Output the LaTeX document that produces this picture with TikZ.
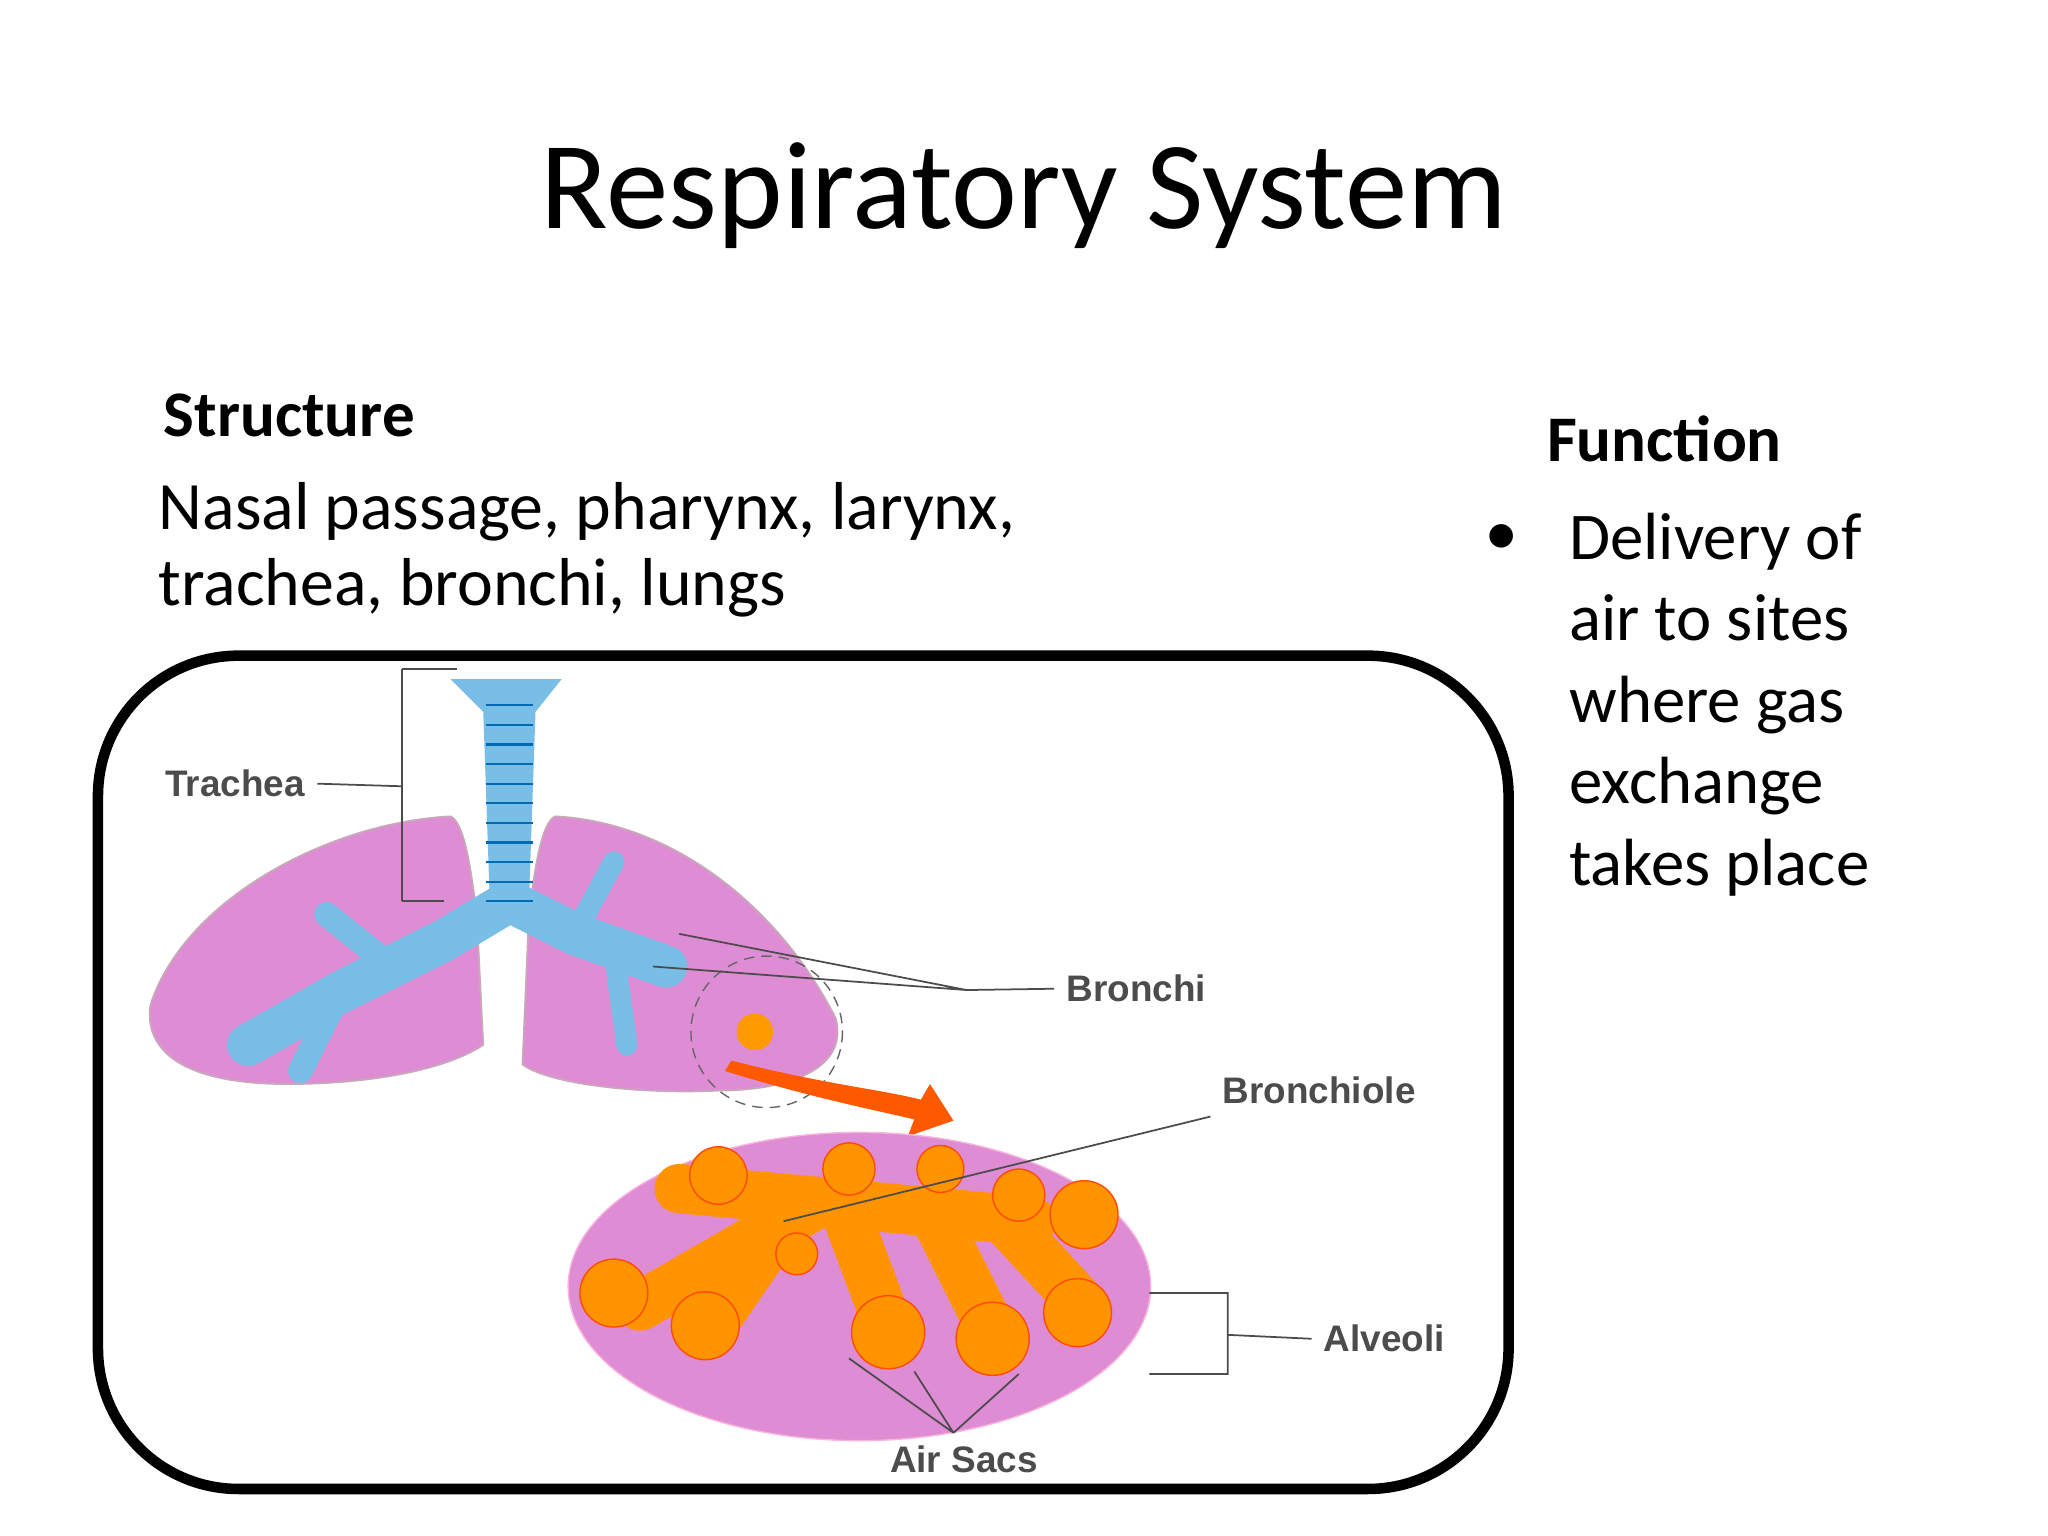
\documentclass[tikz,border=0pt]{standalone}
\usepackage{fontspec}
\setmainfont{Carlito}
\newfontfamily\lblfont{Liberation Sans}
\definecolor{lungc}{RGB}{222,140,212}
\definecolor{bluec}{RGB}{120,190,230}
\begin{document}
\begin{tikzpicture}[x=0.01306cm,y=-0.01306cm,
  lbl/.style={font=\lblfont\bfseries\fontsize{10.5}{11}\selectfont,text=black!70},
  lead/.style={draw=black!70,line width=0.5pt},
  lung/.style={fill=lungc,draw=magenta!40!black!40,line width=0.5pt},
  sac/.style={fill=orange!85!yellow,draw=orange!60!red}]
\useasboundingbox (0,0) rectangle (1568,1176);
\node[font=\fontsize{35.5}{38}\selectfont] (title) at (784,150) {Respiratory System};
\node[anchor=west,font=\bfseries\fontsize{18.5}{20}\selectfont] (st) at (116,318) {Structure};
\node[anchor=north west,align=left,font=\fontsize{19.3}{21.5}\selectfont] (sttxt) at (112,360) {Nasal passage, pharynx, larynx,\\trachea, bronchi, lungs};
\node[anchor=west,font=\bfseries\fontsize{18.5}{20}\selectfont] (fn) at (1175,336) {Function};
\node[font=\fontsize{18}{22}\selectfont] (bul) at (1150,412) {$\bullet$};
\node[anchor=north west,align=left,font=\fontsize{19}{23.2}\selectfont] (fntxt) at (1192,383) {Delivery of\\air to sites\\where gas\\exchange\\takes place};
% frame
\draw[line width=3pt,rounded corners=40] (75,502) rectangle (1155,1140);
% lungs
\path[lung] (345,625) .. controls (250,630) and (140,690) .. (115,770) .. controls (110,810) and (150,830) .. (220,830) .. controls (280,830) and (340,820) .. (370,800) -- (365,700) .. controls (360,660) and (355,630) .. (345,625);
\path[lung] (425,625) .. controls (520,630) and (600,700) .. (640,780) .. controls (650,820) and (600,835) .. (550,835) .. controls (490,838) and (420,830) .. (400,815) -- (405,700) .. controls (410,660) and (415,630) .. (425,625);
% trachea and bronchi
\fill[bluec] (345,520) -- (430,520) -- (410,545) -- (405,690) -- (375,690) -- (370,545) -- cycle;
\draw[bluec,line width=12pt,line cap=round] (390,690) -- (340,720) -- (260,760) -- (190,800);
\draw[bluec,line width=7pt,line cap=round] (300,740) -- (250,700) (260,760) -- (230,820);
\draw[bluec,line width=12pt,line cap=round] (390,690) -- (440,715) -- (510,740);
\draw[bluec,line width=6pt,line cap=round] (440,715) -- (470,660) (470,728) -- (480,800);
\foreach \y in {540,555,...,690} \draw[blue!40!cyan!70!black,line width=0.6pt] (372,\y) -- (408,\y);
% zoom circle & arrow
\draw[black!60,densely dashed] (587,790) circle (58);
\fill[orange!80!yellow] (578,790) circle (14);
\fill[orange!70!red] (560,812) .. controls (630,830) and (680,835) .. (705,842) -- (712,830) -- (730,858) -- (695,870) -- (700,857) .. controls (670,850) and (620,840) .. (555,820) -- cycle;
% alveoli ellipse
\path[fill=lungc,draw=magenta!30] (658,985) ellipse [x radius=223,y radius=118];
\draw[orange!85!yellow,line width=14pt,line cap=round] (520,910) -- (790,935) (620,925) -- (490,1000) (600,935) -- (545,1015) (650,935) -- (680,1015) (720,940) -- (760,1020) (770,935) -- (830,1000);
\foreach \x/\y/\r in {470/990/26,540/1015/26,680/1020/28,760/1025/28,825/1005/26,830/930/26,780/915/20,550/900/22,650/895/20,720/895/18,610/960/16}
  \path[sac] (\x,\y) circle (\r);
% labels
\node[lbl] (tr) at (180,600) {Trachea};
\draw[lead] (tr.east) -- (308,602);
\draw[lead] (308,512) -- (308,690) (308,512) -- (350,512) (308,690) -- (340,690);
\node[lbl] (br) at (870,757) {Bronchi};
\coordinate (b1) at (740,758);
\draw[lead] (b1) -- (520,715) (b1) -- (500,740) (b1) -- (br.west);
\node[lbl] (bl) at (1010,835) {Bronchiole};
\draw[lead] (bl.south west) -- (600,935);
\node[lbl] (al) at (1060,1025) {Alveoli};
\draw[lead] (880,990) -- (940,990) -- (940,1052) -- (880,1052) (940,1022) -- (al.west);
\node[lbl] (as) at (738,1117) {Air Sacs};
\coordinate (a1) at (730,1097);
\draw[lead] (a1) -- (650,1040) (a1) -- (700,1050) (a1) -- (780,1052);
\end{tikzpicture}
\end{document}
